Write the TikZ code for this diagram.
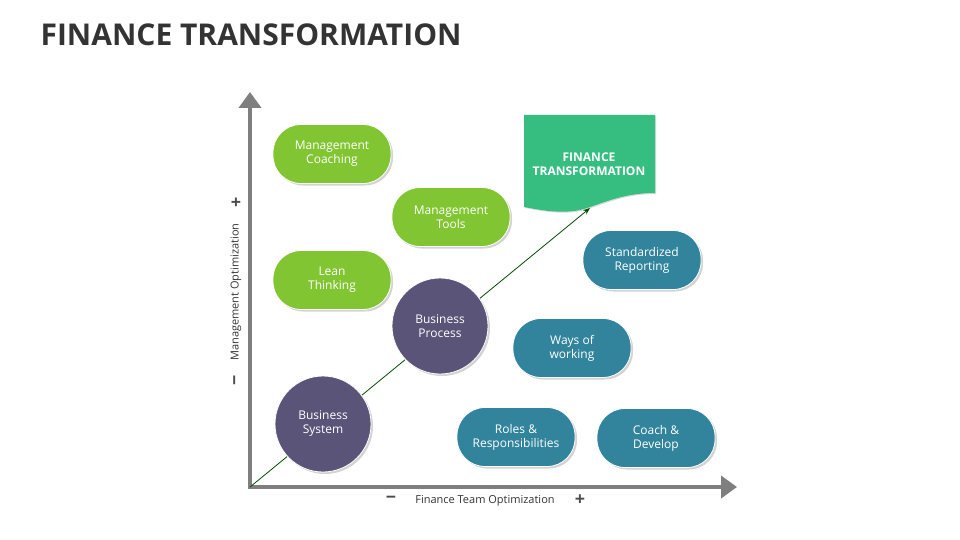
\documentclass[tikz,border=0pt]{standalone}
\usepackage{fontspec}
\setmainfont{Open Sans}
\usetikzlibrary{shadows,arrows.meta}
\definecolor{lg}{HTML}{82C532}
\definecolor{pu}{HTML}{5B5479}
\definecolor{te}{HTML}{31849B}
\definecolor{gr}{HTML}{36BE81}
\definecolor{ax}{HTML}{7F7F7F}
\tikzset{
 pill/.style={rounded corners=28pt,minimum width=118pt,minimum height=59pt,text=white,font=\fontsize{12}{14}\selectfont,align=center,drop shadow={opacity=0.35,shadow xshift=2pt,shadow yshift=-2pt},draw=white,line width=0.8pt},
 gp/.style={pill,fill=lg},
 tp/.style={pill,fill=te},
 circ/.style={circle,minimum size=96pt,fill=pu,text=white,font=\fontsize{12}{14}\selectfont,align=center,drop shadow={opacity=0.35,shadow xshift=2pt,shadow yshift=-2pt},draw=white,line width=0.8pt},
 axl/.style={font=\fontsize{11}{13}\selectfont,text=black!80},
 pm/.style={font=\fontsize{18}{18}\selectfont\bfseries,text=black!70}
}
\begin{document}
\begin{tikzpicture}[x=1pt,y=-1pt]
\useasboundingbox (0,0) rectangle (960,540);
\node[anchor=west,font=\fontsize{30}{34}\selectfont\bfseries,text=black!80] (title) at (37,35) {FINANCE TRANSFORMATION};
\coordinate (o) at (250,487);
\coordinate (yt) at (250,92);
\coordinate (xt) at (737,487);
\draw[ax,line width=4pt,-{Triangle[length=16pt,width=22pt]}] (250,489) -- (yt);
\draw[ax,line width=4pt,-{Triangle[length=16pt,width=22pt]}] (248,487) -- (xt);
% document shape
\fill[gr,drop shadow={opacity=0.3,shadow xshift=1pt,shadow yshift=-1pt}] (524,115) -- (655,115) -- (655,193) .. controls (620,193) and (600,205) .. (580,210) .. controls (560,214) and (540,210) .. (524,207) -- cycle;
\node[text=white,font=\fontsize{12}{14}\selectfont\bfseries,align=center] (ft) at (589,164) {FINANCE\\TRANSFORMATION};
\coordinate (ftb) at (590,208);
\draw[black!70!green,line width=0.8pt,-{Stealth[length=7pt]}] (o) -- (ftb);
\node[gp] (mc) at (332,154) {Management\\Coaching};
\node[gp] (mt) at (451,217) {Management\\Tools};
\node[gp] (lt) at (332,280) {Lean\\Thinking};
\node[circ] (bp) at (440,326) {Business\\Process};
\node[circ] (bs) at (323,424) {Business\\System};
\node[tp] (sr) at (642,260) {Standardized\\Reporting};
\node[tp] (ww) at (572,348) {Ways of\\working};
\node[tp] (rr) at (516,437) {Roles \&\\Responsibilities};
\node[tp] (cd) at (656,438) {Coach \&\\Develop};
\node[axl] (xl) at (485,501) {Finance Team Optimization};
\node[pm] (xm) at (391,500) {\textminus};
\node[pm] (xp) at (580,500) {+};
\node[axl,rotate=90] (yl) at (236,292) {Management Optimization};
\node[pm,rotate=90] (ym) at (237,380) {\textminus};
\node[pm,rotate=90] (yp) at (237,202) {+};
\end{tikzpicture}
\end{document}
